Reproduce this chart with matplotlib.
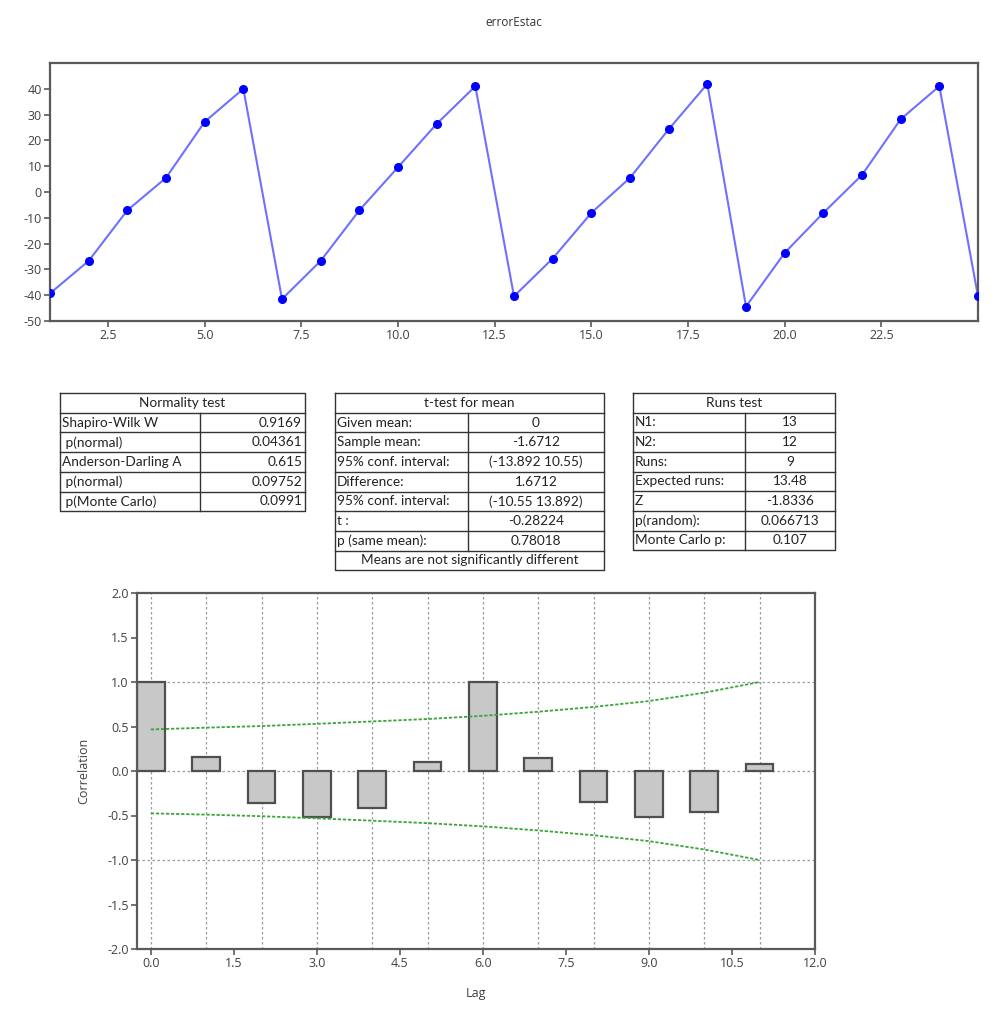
import matplotlib
matplotlib.use("Agg")
import matplotlib.pyplot as plt
import numpy as np

# ---------------- data ----------------
title = "errorEstac"
t_index = list(range(1, 26))
error_values = [-39.3, -26.7, -7.1, 5.5, 27.2, 40.0,
                -41.5, -26.7, -7.1, 9.6, 26.4, 41.0,
                -40.4, -25.8, -8.1, 5.5, 24.3, 41.9,
                -44.4, -23.6, -8.1, 6.6, 28.2, 41.0,
                -40.4]
top_xticks = [2.5, 5.0, 7.5, 10.0, 12.5, 15.0, 17.5, 20.0, 22.5]
top_yticks = [-50, -40, -30, -20, -10, 0, 10, 20, 30, 40]

lags = list(range(0, 12))
acf_values = [1.0, 0.157, -0.364, -0.513, -0.42, 0.10,
              1.0, 0.15, -0.35, -0.517, -0.457, 0.079]
conf_upper = [0.467, 0.487, 0.505, 0.53, 0.557, 0.584,
              0.62, 0.666, 0.72, 0.786, 0.88, 1.0]
conf_lower = [-0.476, -0.49, -0.508, -0.532, -0.558, -0.586,
              -0.622, -0.668, -0.722, -0.788, -0.882, -1.0]
acf_xticks = [0.0, 1.5, 3.0, 4.5, 6.0, 7.5, 9.0, 10.5, 12.0]
acf_yticks = [-2.0, -1.5, -1.0, -0.5, 0.0, 0.5, 1.0, 1.5, 2.0]

norm_title = "Normality test"
norm_labels = ["Shapiro-Wilk W", " p(normal)", "Anderson-Darling A", " p(normal)", " p(Monte Carlo)"]
norm_values = ["0.9169", "0.04361", "0.615", "0.09752", "0.0991"]

ttest_title = "t-test for mean"
ttest_labels = ["Given mean:", "Sample mean:", "95% conf. interval:", "Difference:",
                "95% conf. interval:", "t :", "p (same mean):"]
ttest_values = ["0", "-1.6712", "(-13.892 10.55)", "1.6712", "(-10.55 13.892)",
                "-0.28224", "0.78018"]
ttest_footer = "Means are not significantly different"

runs_title = "Runs test"
runs_labels = ["N1:", "N2:", "Runs:", "Expected runs:", "Z", "p(random):", "Monte Carlo p:"]
runs_values = ["13", "12", "9", "13.48", "-1.8336", "0.066713", "0.107"]

# ---------------- figure ----------------
W, H = 1006, 1024
fig = plt.figure(figsize=(W / 100, H / 100), dpi=100)
plt.rcParams['font.family'] = ['Open Sans', 'DejaVu Sans']

frame_col = "#5a5a5a"
tick_col = "#404040"


def fx(px):
    return px / W


def fy(py):
    return 1 - py / H


def style_axes(ax):
    for s in ax.spines.values():
        s.set_color(frame_col)
        s.set_linewidth(1.6)
    ax.tick_params(direction="out", length=4, width=1.2, color=frame_col,
                   labelsize=9, labelcolor=tick_col, pad=2)


fig.text(0.511, fy(22), title, ha="center", va="center", fontsize=8.5, color="#333333")

# ---- top line chart ----
ax1 = fig.add_axes([fx(50), fy(321), fx(928), (321 - 63) / H])
ax1.plot(t_index, error_values, color="#7070ff", lw=1.5, zorder=2, clip_on=True)
ax1.plot(t_index, error_values, ls="none", marker="o", ms=5.5, color="#0000ff",
         zorder=3, clip_on=True)
ax1.set_xlim(1, 25)
ax1.set_ylim(-50, 50)
ax1.set_xticks(top_xticks)
ax1.set_xticklabels([f"{v:.1f}" for v in top_xticks])
ax1.set_yticks(top_yticks)
ax1.set_yticklabels([str(v) for v in top_yticks])
style_axes(ax1)

# ---- tables ----
tax = fig.add_axes([0, 0, 1, 1])
tax.set_axis_off()
tax.set_xlim(0, 1)
tax.set_ylim(0, 1)

edge_col = "#333333"
tfont = ['Lato', 'DejaVu Sans']
tsize = 9.8


def draw_table(x0, x1, xs, y0, rh, header, labels, values, val_align, footer=None):
    nrows = 1 + len(labels) + (1 if footer else 0)
    y1 = y0 + nrows * rh
    lw = 1.0
    tax.plot([fx(x0), fx(x1), fx(x1), fx(x0), fx(x0)],
             [fy(y0), fy(y0), fy(y1), fy(y1), fy(y0)], color=edge_col, lw=lw)
    for i in range(1, nrows):
        yy = y0 + i * rh
        tax.plot([fx(x0), fx(x1)], [fy(yy), fy(yy)], color=edge_col, lw=lw)
    ys_top = y0 + rh
    ys_bot = y0 + (1 + len(labels)) * rh
    tax.plot([fx(xs), fx(xs)], [fy(ys_top), fy(ys_bot)], color=edge_col, lw=lw)
    tax.text(fx((x0 + x1) / 2), fy(y0 + rh / 2), header, ha="center", va="center",
             fontsize=tsize, family=tfont, color="#222222")
    for i, (lab, val) in enumerate(zip(labels, values)):
        yc = y0 + (i + 1.5) * rh
        tax.text(fx(x0 + 2), fy(yc), lab, ha="left", va="center", fontsize=tsize,
                 family=tfont, color="#222222")
        if val_align == "right":
            tax.text(fx(x1 - 3), fy(yc), val, ha="right", va="center", fontsize=tsize,
                     family=tfont, color="#222222")
        else:
            tax.text(fx((xs + x1) / 2), fy(yc), val, ha="center", va="center",
                     fontsize=tsize, family=tfont, color="#222222")
    if footer:
        yc = y0 + (nrows - 0.5) * rh
        tax.text(fx((x0 + x1) / 2), fy(yc), footer, ha="center", va="center",
                 fontsize=tsize, family=tfont, color="#222222")


draw_table(60, 305, 200, 393, 19.7, norm_title, norm_labels, norm_values, "right")
draw_table(335, 604, 468, 393, 19.7, ttest_title, ttest_labels, ttest_values, "center",
           footer=ttest_footer)
draw_table(633, 835, 745, 393, 19.65, runs_title, runs_labels, runs_values, "center")

# ---- ACF bar chart ----
ax2 = fig.add_axes([fx(137), fy(949), fx(815 - 137), (949 - 593) / H])
ax2.set_xlim(-0.25, 12)
ax2.set_ylim(-2, 2)
grid_kw = dict(color="#9a9a9a", lw=0.9, ls=(0, (2, 2)), zorder=0)
for lg in lags:
    ax2.axvline(lg, **grid_kw)
for yv in (-1.0, 0.0, 1.0):
    ax2.axhline(yv, **grid_kw)
ax2.bar(lags, acf_values, width=0.5, color="#c8c8c8", edgecolor="#4f4f4f",
        linewidth=1.6, zorder=2)
ax2.plot(lags, conf_upper, color="#3aa53a", lw=1.3, ls=(0, (1.8, 1.0)), zorder=3)
ax2.plot(lags, conf_lower, color="#3aa53a", lw=1.3, ls=(0, (1.8, 1.0)), zorder=3)
ax2.set_xticks(acf_xticks)
ax2.set_xticklabels([f"{v:.1f}" for v in acf_xticks])
ax2.set_yticks(acf_yticks)
ax2.set_yticklabels([f"{v:.1f}" for v in acf_yticks])
style_axes(ax2)
ax2.set_xlabel("Lag", fontsize=9, color=tick_col, labelpad=12)
ax2.set_ylabel("Correlation", fontsize=9, color=tick_col, labelpad=12)

fig.savefig("out.png", dpi=100)
